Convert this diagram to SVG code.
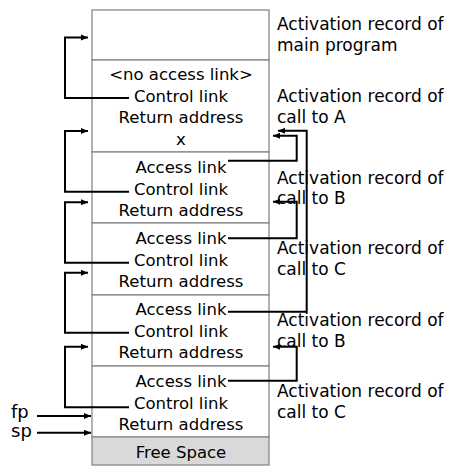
<svg xmlns="http://www.w3.org/2000/svg" width="474" height="474" viewBox="0 0 474 474">
<style>
.t{font-family:"DejaVu Sans","Liberation Sans",sans-serif;font-size:16.5px;fill:#000}
.r{font-size:17px}
.p{font-size:18px}
.c{text-anchor:middle}
.box{fill:#fff;stroke:#888;stroke-width:1.3}
.free{fill:#d9d9d9;stroke:#888;stroke-width:1.3}
.ln{fill:none;stroke:#000;stroke-width:2}
</style>
<defs>
<marker id="ah" markerUnits="userSpaceOnUse" markerWidth="8" markerHeight="8" refX="7" refY="4" orient="auto">
<path d="M0,1 L7,4 L0,7 Z" fill="#000"/>
</marker>
</defs>
<rect width="474" height="474" fill="#fff"/>
<g id="main">
<rect class="box" x="92" y="10" width="177" height="50"/>
<text class="t r" x="277" y="30">Activation record of</text>
<text class="t r" x="277" y="51">main program</text>
</g>
<g id="callA">
<rect class="box" x="92" y="60" width="177" height="92"/>
<text class="t c" x="181" y="80">&lt;no access link&gt;</text>
<text class="t c" x="181" y="101.5">Control link</text>
<text class="t c" x="181" y="123">Return address</text>
<text class="t c" x="181" y="145">x</text>
<text class="t r" x="277" y="102">Activation record of</text>
<text class="t r" x="277" y="123">call to A</text>
</g>
<g id="callB1">
<rect class="box" x="92" y="152" width="177" height="71"/>
<text class="t c" x="181" y="173">Access link</text>
<text class="t c" x="181" y="194.5">Control link</text>
<text class="t c" x="181" y="216">Return address</text>
<text class="t r" x="277" y="184">Activation record of</text>
<text class="t r" x="277" y="204">call to B</text>
</g>
<g id="callC1">
<rect class="box" x="92" y="223" width="177" height="72"/>
<text class="t c" x="181" y="244">Access link</text>
<text class="t c" x="181" y="265.5">Control link</text>
<text class="t c" x="181" y="287">Return address</text>
<text class="t r" x="277" y="254">Activation record of</text>
<text class="t r" x="277" y="275">call to C</text>
</g>
<g id="callB2">
<rect class="box" x="92" y="295" width="177" height="71"/>
<text class="t c" x="181" y="315">Access link</text>
<text class="t c" x="181" y="336.5">Control link</text>
<text class="t c" x="181" y="358">Return address</text>
<text class="t r" x="277" y="326">Activation record of</text>
<text class="t r" x="277" y="347">call to B</text>
</g>
<g id="callC2">
<rect class="box" x="92" y="366" width="177" height="71"/>
<text class="t c" x="181" y="387">Access link</text>
<text class="t c" x="181" y="408.5">Control link</text>
<text class="t c" x="181" y="430">Return address</text>
<text class="t r" x="277" y="397">Activation record of</text>
<text class="t r" x="277" y="418">call to C</text>
</g>
<g id="free">
<rect class="free" x="92" y="437" width="177" height="28"/>
<text class="t c" x="181" y="458">Free Space</text>
</g>
<g id="fp">
<text class="t p" x="11" y="418">fp</text>
</g>
<g id="sp">
<text class="t p" x="11" y="437">sp</text>
</g>
<g id="connectors">
<path class="ln" d="M129,98 H65 V37.5 H88" marker-end="url(#ah)"/>
<path class="ln" d="M129,191.7 H65 V131 H88" marker-end="url(#ah)"/>
<path class="ln" d="M129,262.7 H65 V202.3 H88" marker-end="url(#ah)"/>
<path class="ln" d="M129,332.7 H65 V272.7 H88" marker-end="url(#ah)"/>
<path class="ln" d="M129,407.3 H65 V346.7 H88" marker-end="url(#ah)"/>
<path class="ln" d="M37,416 H91" marker-end="url(#ah)"/>
<path class="ln" d="M37,432.7 H91" marker-end="url(#ah)"/>
<path class="ln" d="M228,160.7 H296.7 V135.7 H273" marker-end="url(#ah)"/>
<path class="ln" d="M228,311.7 H306.7 V130.7 H278" marker-end="url(#ah)"/>
<path class="ln" d="M228,238.3 H296.7 V201.7 H273" marker-end="url(#ah)"/>
<path class="ln" d="M228,380.7 H296.7 V346.7 H273" marker-end="url(#ah)"/>
</g>
</svg>
